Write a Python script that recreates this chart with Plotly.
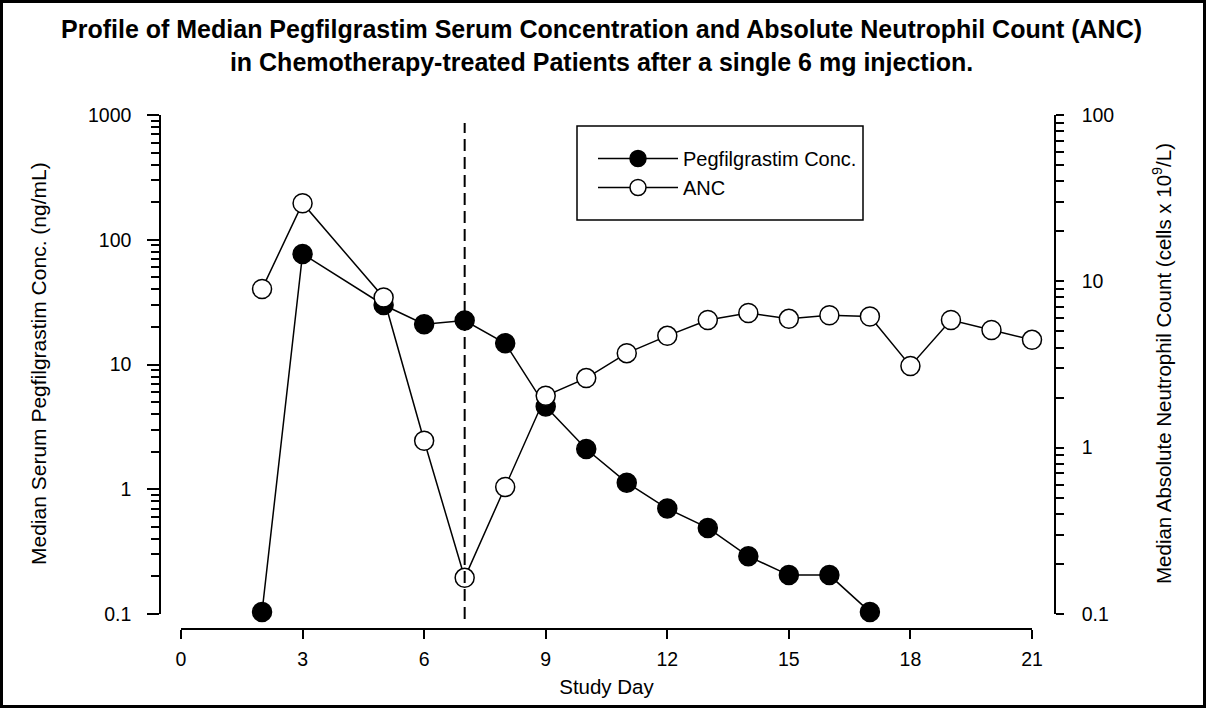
import plotly.graph_objects as go

# ---- data ----
days_peg = [2, 3, 5, 6, 7, 8, 9, 10, 11, 12, 13, 14, 15, 16, 17]
peg_conc = [0.104, 77, 30, 21, 22.5, 14.8, 4.6, 2.1, 1.13, 0.70, 0.49, 0.29, 0.205, 0.205, 0.104]

days_anc = [2, 3, 5, 6, 7, 8, 9, 10, 11, 12, 13, 14, 15, 16, 17, 18, 19, 20, 21]
anc = [9.0, 29.5, 8.0, 1.1, 0.165, 0.58, 2.05, 2.62, 3.7, 4.7, 5.85, 6.45, 5.95, 6.25, 6.15, 3.1, 5.85, 5.1, 4.45]

x_ticks = [0, 3, 6, 9, 12, 15, 18, 21]
injection_day = 7

title_lines = ["Profile of Median Pegfilgrastim Serum Concentration and Absolute Neutrophil Count (ANC)",
               "in Chemotherapy-treated Patients after a single 6 mg injection."]

# ---- layout geometry (pixels) ----
W, H = 1206, 708
L, R, T, B = 160, 151, 115, 79
PW, PH = W - L - R, H - T - B


def px(xp):
    return (xp - L) / PW


def py(yp):
    return (H - B - yp) / PH


FONT = "Liberation Sans, Arial, sans-serif"

fig = go.Figure()
fig.add_trace(go.Scatter(
    x=days_peg, y=peg_conc, name="Pegfilgrastim Conc.", mode="lines+markers",
    line=dict(color="black", width=1.5),
    marker=dict(symbol="circle", size=19, color="black", line=dict(color="black", width=1.5)),
    yaxis="y", cliponaxis=False))
fig.add_trace(go.Scatter(
    x=days_anc, y=anc, name="ANC", mode="lines+markers",
    line=dict(color="black", width=1.5),
    marker=dict(symbol="circle", size=19, color="white", line=dict(color="black", width=1.5)),
    yaxis="y2", cliponaxis=False))

axis_common = dict(showline=True, linecolor="black", linewidth=1.5, showgrid=False,
                   zeroline=False, ticks="outside", tickcolor="black", tickwidth=1.5,
                   tickfont=dict(family=FONT, size=19.5, color="black"))

fig.update_layout(
    width=W, height=H,
    margin=dict(l=L, r=R, t=T, b=B, pad=0),
    paper_bgcolor="white", plot_bgcolor="white",
    font=dict(family=FONT, color="black"),
    showlegend=True,
    legend=dict(x=px(593), y=py(139), xanchor="left", yanchor="top",
                bgcolor="rgba(0,0,0,0)", borderwidth=0, itemwidth=80,
                font=dict(family=FONT, size=20, color="black"), tracegroupgap=0),
    xaxis=dict(range=[0, 21], domain=[px(181), px(1032)], anchor="free", position=0,
               tickmode="array", tickvals=x_ticks, ticklen=9, ticklabelstandoff=4,
               title=dict(text="Study Day", font=dict(family=FONT, size=20.5), standoff=9),
               **axis_common),
    yaxis=dict(type="log", range=[-1, 3], domain=[py(614), 1], anchor="free", position=0,
               side="left", dtick=1, tick0=0, tickformat="~g", ticklen=12,
               ticklabelstandoff=12,
               minor=dict(ticks="outside", ticklen=8, tickcolor="black", tickwidth=1.5,
                          dtick="D1", showgrid=False),
               **axis_common),
    yaxis2=dict(type="log", range=[-1, 2], overlaying="y", anchor="free", position=1,
                side="right", dtick=1, tick0=0, tickformat="~g", ticklen=8,
                ticklabelstandoff=14,
                minor=dict(ticks="outside", ticklen=8, tickcolor="black", tickwidth=1.5,
                           dtick="D1", showgrid=False),
                **axis_common),
)

# chart title (two centred bold lines)
fig.add_annotation(text="<b>" + title_lines[0] + "</b><br><b>" + title_lines[1] + "</b>",
                   xref="paper", yref="paper", x=px(601), y=py(45), showarrow=False,
                   xanchor="center", yanchor="middle", align="center",
                   font=dict(family=FONT, size=25, color="black"))

# injection day dashed line
fig.add_shape(type="line", xref="x", yref="paper", x0=injection_day, x1=injection_day,
              y0=py(619), y1=py(123), line=dict(color="black", width=2, dash="12px,6px"),
              layer="above")
# legend box
fig.add_shape(type="rect", xref="paper", yref="paper", x0=px(577), x1=px(863),
              y0=py(220), y1=py(126), line=dict(color="black", width=1.5), layer="above")
# outer frame
fig.add_shape(type="rect", xref="paper", yref="paper", x0=px(1.5), x1=px(W - 1.5),
              y0=py(H - 1.5), y1=py(1.5), line=dict(color="black", width=3), layer="above")

# y-axis titles
fig.add_annotation(text="Median Serum Pegfilgrastim Conc. (ng/mL)", xref="paper", yref="paper",
                   x=px(38), y=py(364), textangle=-90, showarrow=False,
                   font=dict(family=FONT, size=21, color="black"), xanchor="center", yanchor="middle")
fig.add_annotation(text="Median Absolute Neutrophil Count (cells x 10<sup>9</sup>/L)",
                   xref="paper", yref="paper",
                   x=px(1162), y=py(364), textangle=-90, showarrow=False,
                   font=dict(family=FONT, size=20.5, color="black"), xanchor="center", yanchor="middle")

fig.write_html("out.html")
